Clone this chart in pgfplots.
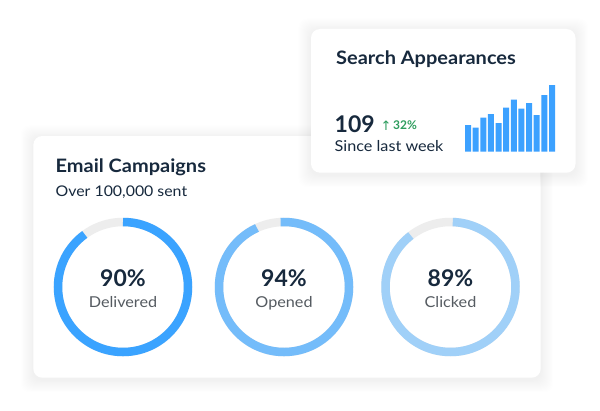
\documentclass[border=0pt]{standalone}
\usepackage{pgfplots}
\pgfplotsset{compat=1.18}
\usepackage{fontspec}
\setmainfont{Lato}[FakeStretch=1.08]
\newfontfamily\numfont{Lato}
\newfontfamily\symfont{DejaVu Sans}

\definecolor{navy}{HTML}{17293D}
\definecolor{subgray}{HTML}{555B61}
\definecolor{upgreen}{HTML}{2E9D5E}
\definecolor{ringgray}{HTML}{EDEDED}
\definecolor{barblue}{HTML}{3CA1FF}
\definecolor{dA}{HTML}{3AA3FF}
\definecolor{dB}{HTML}{74BCFA}
\definecolor{dC}{HTML}{A0D0F8}

\newcommand{\card}[4]{%
  \foreach \k in {1,...,14}{
    \fill[black, opacity=0.0055, rounded corners=9bp]
      (#1-\k*0.9, #2-2-\k*0.9) rectangle (#3+\k*0.9, #4-2+\k*0.9);
  }
  \fill[white, rounded corners=9bp] (#1,#2) rectangle (#3,#4);
}
% ring: centre x, centre y, value in percent, colour, start angle
\newcommand{\ring}[5]{%
  \draw[ringgray, line width=8.5bp] (axis cs:#1,#2) circle[radius=65bp];
  \draw[#4, line width=8.5bp] (axis cs:#1,#2) ++(#5:65bp)
    arc[start angle=#5, end angle={#5-3.6*#3}, radius=65bp];
}

\begin{document}
\begin{tikzpicture}[x=1bp, y=1bp]
\path (0,0) rectangle (600,410);
\coordinate (bars) at (465,258.3);

% Email Campaigns card
\card{33.3}{32.3}{540.7}{274}
\node[anchor=base west, inner sep=0, text=navy, font=\bfseries\fontsize{18.5bp}{20bp}\selectfont]
  at (55.5, 410-172.5) {Email Campaigns};
\node[anchor=base west, inner sep=0, text=navy, font=\fontsize{14.7bp}{16bp}\selectfont]
  at (55.5, 410-196) {Over 100,000 sent};

\begin{axis}[
  at={(0,0)}, anchor=south west,
  scale only axis, width=600bp, height=410bp,
  xmin=0, xmax=600, ymin=0, ymax=410,
  hide axis, clip=false,
]
\ring{123}{123}{90}{dA}{90}
\ring{284}{123}{94}{dB}{93}
\ring{450.5}{123}{89}{dC}{88}
\end{axis}

\foreach \cx/\val/\lab in {123/90/Delivered, 284/94/Opened, 450.5/89/Clicked}{
  \node[anchor=base, inner sep=0, text=navy, font=\numfont\bfseries\fontsize{23bp}{25bp}\selectfont]
    at (\cx, 410-286) {\val\%};
  \node[anchor=base, inner sep=0, text=subgray, font=\fontsize{15bp}{17bp}\selectfont]
    at (\cx, 410-307.5) {\lab};
}

% Search Appearances card
\card{311}{237.3}{575.5}{381}
\node[anchor=base west, inner sep=0, text=navy, font=\bfseries\fontsize{18.5bp}{20bp}\selectfont]
  at (336, 410-64.3) {Search Appearances};
\node[anchor=base west, inner sep=0, text=navy, font=\numfont\bfseries\fontsize{23bp}{25bp}\selectfont]
  at (334.5, 410-132.3) {109};
\node[anchor=base west, inner sep=0, text=upgreen, font=\symfont\fontsize{13bp}{14bp}\selectfont]
  at (380.5, 410-130) {↑};
\node[anchor=base west, inner sep=0, text=upgreen, font=\numfont\bfseries\fontsize{12bp}{14bp}\selectfont]
  at (393, 410-129.5) {32\%};
\node[anchor=base west, inner sep=0, text=navy, font=\fontsize{15bp}{17bp}\selectfont]
  at (334.5, 410-151.7) {Since last week};

\begin{axis}[
  at={(bars)}, anchor=south west,
  scale only axis, width=90bp, height=66.7bp,
  xmin=-0.393, xmax=11.393, ymin=0, ymax=66.7,
  hide axis, ybar, bar width=6bp,
]
\addplot[fill=barblue, draw=none] coordinates {
  (0,26.7) (1,24.0) (2,34.0) (3,37.7) (4,28.7) (5,44.0)
  (6,52.0) (7,43.0) (8,48.7) (9,36.7) (10,56.7) (11,66.7)
};
\end{axis}
\end{tikzpicture}
\end{document}
